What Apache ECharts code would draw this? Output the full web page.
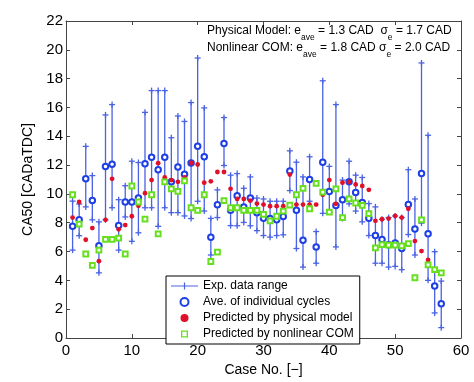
<!DOCTYPE html>
<html>
<head>
<meta charset="utf-8">
<script src="https://cdn.jsdelivr.net/npm/echarts@6/dist/echarts.min.js"></script>
<style>
html,body{margin:0;padding:0;background:#fff;}
#chart{width:474px;height:382px;}
</style>
</head>
<body>
<div id="chart"></div>
<script>
const cases = [1,2,3,4,5,6,7,8,9,10,11,12,13,14,15,16,17,18,19,20,21,22,23,24,25,26,27,28,29,30,31,32,33,34,35,36,37,38,39,40,41,42,43,44,45,46,47,48,49,50,51,52,53,54,55,56,57];
const expHigh = [9.5,9.3,13.3,11.27,8.06,15.48,16.2,9.6,10.57,12.27,12.18,15.66,17.17,17.17,17.17,13.9,15.41,15.03,16.34,19.43,15.97,8.3,10.28,15.3,11.3,11.41,10.39,11.18,9.71,9.65,9.49,9.49,9.49,12.99,12.2,11.18,12.58,7.39,17.85,11.91,16.2,10.96,12.27,11.3,11.14,9.33,9.1,8.24,8.36,8.47,8.36,11.68,9.65,19.09,14.07,5.99,3.95];
const expLow = [6.1,7.1,9.1,8.2,4.52,8.2,9.04,6.1,8.4,6.71,7.3,9.04,9.04,7.75,9.04,8.7,8.7,8.47,8.29,9.49,8.81,5.76,8.36,11.97,7.8,7.79,8.02,7.79,7.45,7.11,7.0,7.11,7.16,10.23,6.21,4.92,9.49,5.19,8.65,8.74,6.32,8.29,9.31,8.81,8.06,7.11,5.19,5.19,4.92,4.97,4.74,7.18,5.76,7.97,4.0,1.74,0.72];
const aveCycles = [7.75,8.2,11.05,9.55,6.41,11.9,12.05,7.8,9.44,9.44,9.71,12.09,12.54,11.68,12.54,10.84,11.86,11.36,12.15,13.31,12.58,7.0,9.24,13.49,8.86,9.87,9.1,9.71,8.7,8.31,8.29,8.2,8.43,11.59,8.86,6.78,11.0,6.32,12.2,10.17,9.19,9.6,10.84,10.1,9.4,8.31,7.11,6.84,6.48,6.6,6.21,9.26,7.57,11.41,7.23,3.61,2.37];
const physModel = [8.36,9.44,6.82,7.63,5.33,8.2,11.05,7.54,7.84,8.45,9.17,10.05,10.96,12.13,11.14,10.96,10.84,11.14,12.15,12.04,10.78,10.87,11.52,11.52,10.35,9.65,9.65,9.53,9.33,9.26,9.15,9.15,9.15,11.34,9.26,9.26,9.26,9.26,9.94,10.96,9.31,10.78,10.84,10.66,10.55,10.28,8.13,8.24,8.29,8.47,8.36,8.97,6.73,6.03,5.42,4.67,4.45];
const nonlinCOM = [9.94,7.9,5.83,5.04,6.1,6.84,6.84,6.93,5.83,10.55,9.44,8.25,9.94,7.23,10.84,10.35,10.17,10.91,9.04,8.86,9.94,5.31,5.96,9.53,9.04,9.04,8.86,8.86,8.86,8.58,8.13,8.45,8.8,9.22,9.94,10.39,8.97,10.73,10.12,8.74,10.35,8.36,9.65,9.37,9.2,8.63,6.26,6.48,6.44,6.44,6.4,6.55,4.18,8.2,5.08,4.74,4.52];
const xTicks = {min:0, max:60, interval:10};
const yTicks = {min:0, max:22, interval:2};
const seriesNames = ['Exp. data range','Ave. of individual cycles','Predicted by physical model','Predicted by nonlinear COM'];

const FONT = '"Liberation Sans", Arial, Helvetica, sans-serif';
const axisColor = '#444';
const barColor = '#4a62e4';
const circleColor = '#1f3fe6';
const redColor = '#e0102a';
const greenColor = '#66e01e';

const chart = echarts.init(document.getElementById('chart'), null, {renderer:'canvas'});

function errRender(params, api){
  const x = api.value(0), lo = api.value(1), hi = api.value(2);
  const a = api.coord([x, lo]), b = api.coord([x, hi]);
  const s = 3;
  const st = {stroke: barColor, lineWidth: 1.3, fill: null};
  const ln = (x1,y1,x2,y2)=>({type:'line', shape:{x1,y1,x2,y2}, style:st});
  return {type:'group', children:[
    ln(a[0], a[1], b[0], b[1]),
    ln(a[0]-s, a[1], a[0]+s, a[1]), ln(a[0], a[1]-s, a[0], a[1]+s),
    ln(b[0]-s, b[1], b[0]+s, b[1]), ln(b[0], b[1]-s, b[0], b[1]+s)
  ]};
}

const baseAxisX = {type:'value', min:xTicks.min, max:xTicks.max, interval:xTicks.interval,
  axisLine:{show:true, onZero:false, lineStyle:{color:axisColor, width:1}},
  axisTick:{show:true, inside:true, length:4, lineStyle:{color:axisColor}},
  splitLine:{show:false}};
const baseAxisY = {type:'value', min:yTicks.min, max:yTicks.max, interval:yTicks.interval,
  axisLine:{show:true, onZero:false, lineStyle:{color:axisColor, width:1}},
  axisTick:{show:true, inside:true, length:4, lineStyle:{color:axisColor}},
  splitLine:{show:false}};

const richSub = {
  a:{fontSize:12, fontFamily:FONT, fill:'#000', lineHeight:16, verticalAlign:'top'},
  s:{fontSize:8.5, fontFamily:FONT, fill:'#000', lineHeight:10, padding:[8,0,0,0], verticalAlign:'top'}
};

const option = {
  animation:false,
  backgroundColor:'#fff',
  textStyle:{fontFamily:FONT},
  grid:{left:66, right:13, top:21, bottom:37},
  xAxis:[
    Object.assign({}, baseAxisX, {position:'bottom',
      name:'Case No. [\u2212]', nameLocation:'middle', nameGap:25,
      nameTextStyle:{fontSize:14, color:'#000', fontFamily:FONT},
      axisLabel:{fontSize:15, color:'#000', margin:5, fontFamily:FONT}}),
    Object.assign({}, baseAxisX, {position:'top', axisLabel:{show:false}})
  ],
  yAxis:[
    Object.assign({}, baseAxisY, {position:'left',
      name:'CA50 [CADaTDC]', nameLocation:'middle', nameGap:22, nameRotate:90,
      nameTextStyle:{fontSize:14, color:'#000', fontFamily:FONT},
      axisLabel:{fontSize:15, color:'#000', margin:3, fontFamily:FONT}}),
    Object.assign({}, baseAxisY, {position:'right', axisLabel:{show:false}})
  ],
  legend:{
    orient:'vertical', left:166, top:276,
    padding:[3,6,3,5], itemGap:2, itemWidth:27, itemHeight:8,
    backgroundColor:'#fff', borderColor:'#000', borderWidth:1,
    textStyle:{fontSize:12, color:'#000', lineHeight:14, fontFamily:FONT},
    data:[
      {name:seriesNames[0], icon:'path://M0,3.4H27V4.6H0Z M12.9,0.5H14.1V7.5H12.9Z'},
      {name:seriesNames[1]},
      {name:seriesNames[2]},
      {name:seriesNames[3], icon:'path://M0,4h0.01v0.01h-0.01z M10,0.5h7v7h-7z M11.3,1.8v4.4h4.4v-4.4z M26.99,4h0.01v0.01h-0.01z',
       itemStyle:{color:greenColor, borderWidth:0}}
    ]
  },
  graphic:[
    {type:'text', left:207, top:25, z:100, style:{
      text:'{a|Physical Model: e}{s|ave}{a| = 1.3 CAD  \u03c3}{s|e}{a| = 1.7 CAD}', rich:richSub}},
    {type:'text', left:207, top:42, z:100, style:{
      text:'{a|Nonlinear COM: e}{s|ave}{a| = 1.8 CAD \u03c3}{s|e}{a| = 2.0 CAD}', rich:richSub}}
  ],
  series:[
    {name:seriesNames[0], type:'custom', renderItem:errRender, xAxisIndex:0, yAxisIndex:0,
     itemStyle:{color:barColor},
     encode:{x:0, y:[1,2]},
     data:cases.map((c,i)=>[c, expLow[i], expHigh[i]]), z:2},
    {name:seriesNames[1], type:'scatter', symbol:'emptyCircle', symbolSize:5.5, symbolKeepAspect:true,
     itemStyle:{color:circleColor, borderColor:circleColor, borderWidth:1.8, opacity:1},
     data:cases.map((c,i)=>[c, aveCycles[i]]), z:3},
    {name:seriesNames[2], type:'scatter', symbol:'circle', symbolSize:4.8, symbolKeepAspect:true,
     itemStyle:{color:redColor, opacity:1},
     data:cases.map((c,i)=>[c, physModel[i]]), z:4},
    {name:seriesNames[3], type:'scatter', symbol:'emptyRect', symbolSize:4.8, symbolKeepAspect:true,
     itemStyle:{color:greenColor, borderColor:greenColor, borderWidth:1.3, opacity:1},
     data:cases.map((c,i)=>[c, nonlinCOM[i]]), z:5}
  ]
};
chart.setOption(option);
</script>
</body>
</html>
